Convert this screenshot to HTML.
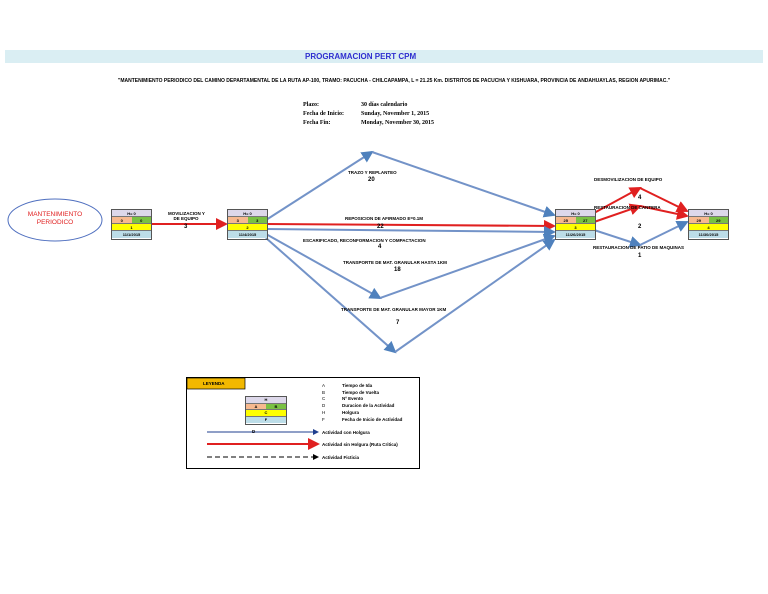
<!DOCTYPE html>
<html><head><style>
body{margin:0;width:768px;height:594px;background:#fff;position:relative;font-family:"Liberation Sans",sans-serif;overflow:hidden}
.t{position:absolute;font-weight:bold;white-space:nowrap}
.n{position:absolute;width:39px;height:29px;border:1px solid #555;font-size:4px;font-weight:bold;text-align:center;line-height:7px}
.n div{height:7px;box-sizing:border-box;border-bottom:1px solid #777}
.n .h{background:#ddd8ea}.n .c{background:#ffff00}.n .f{background:#bcdde8;border:0}
.n .ab{display:flex}.n .ab span{flex:1}.n .a{background:#f7b98f}.n .b{background:#7ac143}
.s{font-size:4.5px}
.sf{position:absolute;font-family:"Liberation Serif",serif;font-size:6px;font-weight:bold}
</style></head><body>
<div style="position:absolute;left:5px;top:50px;width:758px;height:13px;background:#daeef3"></div>
<div class="t" style="left:305px;top:52px;font-size:8px;color:#2f2fd0">PROGRAMACION PERT CPM</div>
<div class="t" style="left:118px;top:78px;font-size:5px">"MANTENIMIENTO PERIODICO DEL CAMINO DEPARTAMENTAL DE LA RUTA AP-100, TRAMO: PACUCHA - CHILCAPAMPA, L = 21.25 Km. DISTRITOS DE PACUCHA Y KISHUARA, PROVINCIA DE ANDAHUAYLAS, REGION APURIMAC."</div>
<div class="sf" style="left:303px;top:102px">Plazo:</div><div class="sf" style="left:361px;top:102px">30 días calendario</div>
<div class="sf" style="left:303px;top:111px">Fecha de Inicio:</div><div class="sf" style="left:361px;top:111px">Sunday, November 1, 2015</div>
<div class="sf" style="left:303px;top:120px">Fecha Fin:</div><div class="sf" style="left:361px;top:120px">Monday, November 30, 2015</div>
<svg style="position:absolute;left:0;top:0" width="768" height="594">
<defs>
<marker id="bl" markerWidth="6" markerHeight="6" refX="5" refY="3" orient="auto"><path d="M0,0L6,3L0,6z" fill="#4f81bd"/></marker>
<marker id="rd" markerWidth="6" markerHeight="6" refX="5" refY="3" orient="auto"><path d="M0,0L6,3L0,6z" fill="#e02020"/></marker>
<marker id="dk" markerWidth="6" markerHeight="6" refX="5" refY="3" orient="auto"><path d="M0,0L6,3L0,6z" fill="#1f3f8f"/></marker>
<marker id="k" markerWidth="6" markerHeight="6" refX="5" refY="3" orient="auto"><path d="M0,0L6,3L0,6z" fill="#000"/></marker>
</defs>
<ellipse cx="55" cy="220" rx="47" ry="21" fill="#fff" stroke="#4f6fbf" stroke-width="1"/>
<g fill="none" stroke-width="2">
<path d="M151,224L226,224" stroke="#e02020" marker-end="url(#rd)"/>
<path d="M266,220L372,152" stroke="#7393c8" marker-end="url(#bl)"/><path d="M372,152L554,215" stroke="#7393c8" marker-end="url(#bl)"/>
<path d="M266,224L554,226" stroke="#e02020" marker-end="url(#rd)"/>
<path d="M266,229L554,232" stroke="#7393c8" marker-end="url(#bl)"/>
<path d="M266,234L380,298" stroke="#7393c8" marker-end="url(#bl)"/><path d="M380,298L554,236" stroke="#7393c8" marker-end="url(#bl)"/>
<path d="M266,238L395,352" stroke="#7393c8" marker-end="url(#bl)"/><path d="M395,352L554,240" stroke="#7393c8" marker-end="url(#bl)"/>
<path d="M594,213L640,188" stroke="#e02020" marker-end="url(#rd)"/><path d="M640,188L687,211" stroke="#e02020" marker-end="url(#rd)"/>
<path d="M594,222L640,206" stroke="#e02020" marker-end="url(#rd)"/><path d="M640,206L687,216" stroke="#e02020" marker-end="url(#rd)"/>
<path d="M594,230L640,245" stroke="#7393c8" marker-end="url(#bl)"/><path d="M640,245L687,222" stroke="#7393c8" marker-end="url(#bl)"/>
</g>
<rect x="186.5" y="377.5" width="233" height="91" fill="none" stroke="#000"/>
<rect x="187" y="378" width="58" height="11" fill="#f2b800" stroke="#000" stroke-width="0.7"/>
<path d="M207,432L318,432" stroke="#1f3f8f" stroke-width="1" marker-end="url(#dk)"/>
<path d="M207,444L318,444" stroke="#e02020" stroke-width="2" marker-end="url(#rd)"/>
<path d="M207,457L318,457" stroke="#000" stroke-width="1" stroke-dasharray="5,3" marker-end="url(#k)"/>
</svg>
<div class="t" style="left:14px;top:211px;width:82px;text-align:center;font-weight:normal;font-size:6.5px;color:#e02020;line-height:8px">MANTENIMIENTO<br>PERIODICO</div>
<div class="n" style="left:111px;top:209px"><div class="h">H= 0</div><div class="ab"><span class="a">0</span><span class="b">0</span></div><div class="c">1</div><div class="f">11/1/2015</div></div>
<div class="n" style="left:227px;top:209px"><div class="h">H= 0</div><div class="ab"><span class="a">3</span><span class="b">3</span></div><div class="c">2</div><div class="f">11/4/2015</div></div>
<div class="n" style="left:555px;top:209px"><div class="h">H= 0</div><div class="ab"><span class="a">25</span><span class="b">27</span></div><div class="c">3</div><div class="f">11/26/2015</div></div>
<div class="n" style="left:688px;top:209px"><div class="h">H= 0</div><div class="ab"><span class="a">29</span><span class="b">29</span></div><div class="c">4</div><div class="f">11/30/2015</div></div>
<div class="t s" style="left:168px;top:211px;text-align:center;width:36px">MOVILIZACION Y<br>DE EQUIPO</div>
<div class="t" style="left:184px;top:224px;font-size:6px">3</div>
<div class="t s" style="left:348px;top:170px">TRAZO Y REPLANTEO</div><div class="t" style="left:368px;top:177px;font-size:6px">20</div>
<div class="t s" style="left:345px;top:216px">REPOSICION DE AFIRMADO E=0.1M</div><div class="t" style="left:377px;top:224px;font-size:6px">22</div>
<div class="t s" style="left:303px;top:238px">ESCARIFICADO, RECONFORMACION Y COMPACTACION</div><div class="t" style="left:378px;top:244px;font-size:6px">4</div>
<div class="t s" style="left:343px;top:260px">TRANSPORTE DE MAT. GRANULAR HASTA 1KM</div><div class="t" style="left:394px;top:267px;font-size:6px">18</div>
<div class="t s" style="left:341px;top:307px">TRANSPORTE DE MAT. GRANULAR MAYOR 1KM</div><div class="t" style="left:396px;top:320px;font-size:6px">7</div>
<div class="t s" style="left:594px;top:177px">DESMOVILIZACION DE EQUIPO</div><div class="t" style="left:638px;top:195px;font-size:6px">4</div>
<div class="t s" style="left:594px;top:205px">RESTAURACION DE CANTERA</div><div class="t" style="left:638px;top:224px;font-size:6px">2</div>
<div class="t s" style="left:593px;top:245px">RESTAURACION DE PATIO DE MAQUINAS</div><div class="t" style="left:638px;top:253px;font-size:6px">1</div>
<div class="t s" style="left:203px;top:381px">LEYENDA</div>
<div class="n" style="left:245px;top:396px;width:40px;height:27px;line-height:6.5px"><div class="h" style="height:6.5px">H</div><div class="ab" style="height:6.5px"><span class="a">A</span><span class="b">B</span></div><div class="c" style="height:6.5px">C</div><div class="f" style="height:6.5px">F</div></div>
<div class="t s" style="left:252px;top:429px">D</div>
<div class="t s" style="left:322px;top:383px;font-weight:normal;line-height:6.7px">A<br>B<br>C<br>D<br>H<br>F</div>
<div class="t s" style="left:342px;top:383px;line-height:6.7px">Tiempo de Ida<br>Tiempo de Vuelta<br>Nº Evento<br>Duracion de la Actividad<br>Holgura<br>Fecha de Inicio de Actividad</div>
<div class="t s" style="left:322px;top:430px">Actividad con Holgura</div>
<div class="t s" style="left:322px;top:442px">Actividad sin Holgura (Ruta Critica)</div>
<div class="t s" style="left:322px;top:455px">Actividad Ficticia</div>
</body></html>
